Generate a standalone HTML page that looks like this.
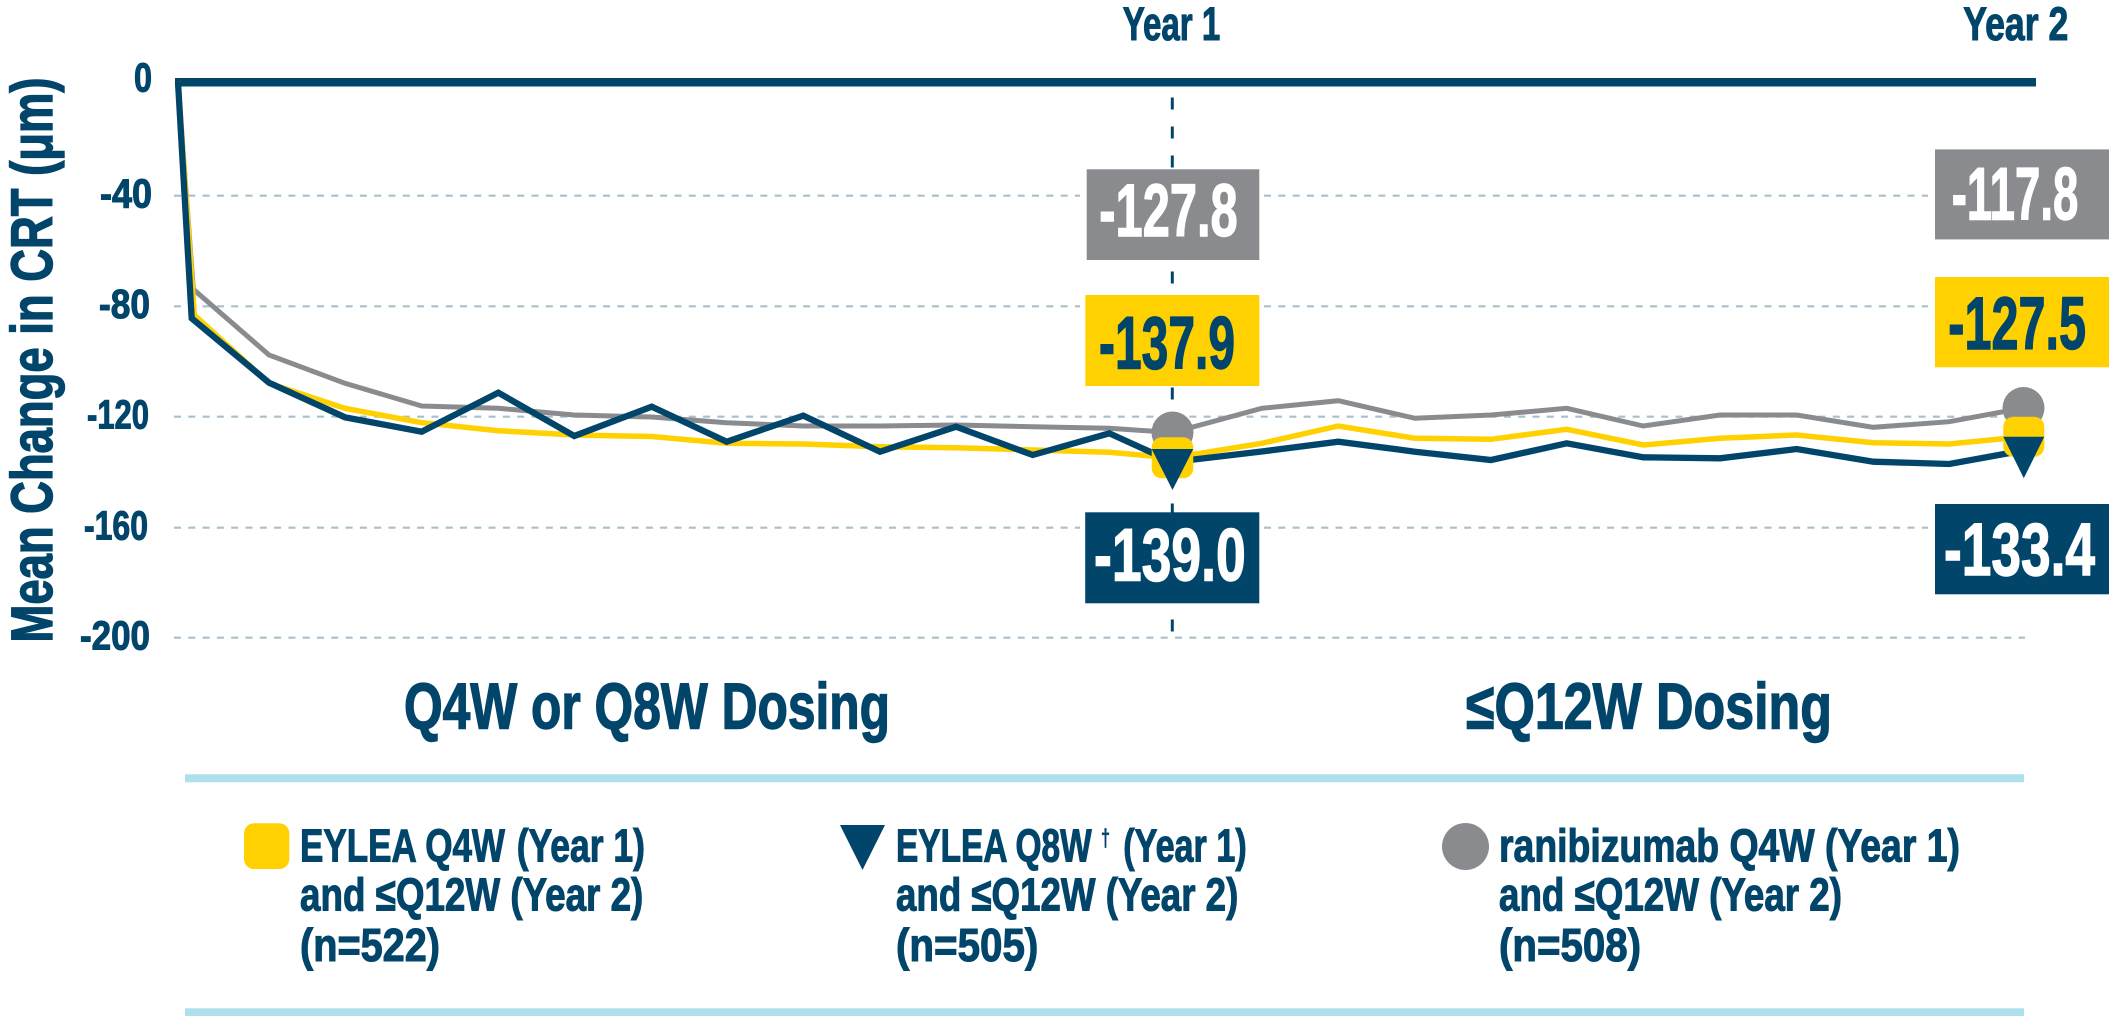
<!DOCTYPE html>
<html><head><meta charset="utf-8"><style>
html,body{margin:0;padding:0;background:#fff;}
svg{display:block;}
text{font-family:"Liberation Sans Narrow","Liberation Sans",Arial,sans-serif;font-weight:bold;}
.nv{stroke:#02456b;stroke-width:1.1;}
.wt{stroke:#fff;stroke-width:1.4;}
.nvb{stroke:#02456b;stroke-width:1.4;}
</style></head><body>
<svg width="2109" height="1019" viewBox="0 0 2109 1019" xmlns="http://www.w3.org/2000/svg">
<rect width="2109" height="1019" fill="#fff"/>
<!-- grid -->
<g stroke="#a8bfcc" stroke-width="2.2" stroke-dasharray="7 7.3" fill="none">
<path d="M174 195.7H1080M1264 195.7H1928"/>
<path d="M174 306.3H1080M1264 306.3H1928"/>
<path d="M174 416.7H2010"/>
<path d="M174 527.7H1080M1264 527.7H1928"/>
<path d="M174 637.7H2025"/>
</g>
<!-- year 1 vertical dashed -->
<line x1="1172.3" y1="97.5" x2="1172.3" y2="642" stroke="#02456b" stroke-width="3" stroke-dasharray="12 17"/>
<!-- zero line -->
<line x1="175" y1="82.3" x2="2036" y2="82.3" stroke="#02456b" stroke-width="8.5"/>
<!-- tick labels -->
<g fill="#02456b" font-size="41" text-anchor="end" class="nv">
<text x="152" y="91.5" textLength="18" lengthAdjust="spacingAndGlyphs">0</text>
<text x="152" y="207.5" textLength="52" lengthAdjust="spacingAndGlyphs">-40</text>
<text x="150" y="318" textLength="51" lengthAdjust="spacingAndGlyphs">-80</text>
<text x="149" y="428.5" textLength="62" lengthAdjust="spacingAndGlyphs">-120</text>
<text x="148" y="539.5" textLength="64" lengthAdjust="spacingAndGlyphs">-160</text>
<text x="150" y="649.5" textLength="70" lengthAdjust="spacingAndGlyphs">-200</text>
</g>
<!-- y axis title -->
<text class="nvb" transform="translate(52,360) rotate(-90)" text-anchor="middle" font-size="58" fill="#02456b" textLength="565" lengthAdjust="spacingAndGlyphs">Mean Change in CRT (μm)</text>
<!-- year labels -->
<text class="nv" x="1122.7" y="40" font-size="47.5" fill="#02456b" textLength="97.6" lengthAdjust="spacingAndGlyphs">Year 1</text>
<text class="nv" x="1963.3" y="40" font-size="47.5" fill="#02456b" textLength="105" lengthAdjust="spacingAndGlyphs">Year 2</text>
<!-- series -->
<g fill="none" stroke-linejoin="miter" stroke-miterlimit="10">
<polyline stroke="#8a8b8f" stroke-width="5" points="178,82 193.3,289.3 269,355 345,383.3 421.7,406 498.3,408.3 574.3,415 651.7,417 726.7,422.7 803.3,426 880,426 956,425 1032.7,426.7 1109.3,428.3 1172.5,432.5 1261.7,408.3 1338.3,400.7 1415,418.3 1491,415 1566.7,408.3 1643.3,426 1720,415 1796.7,415 1873.3,427.3 1949.3,421.7 2023.5,408"/>
<polyline stroke="#ffd100" stroke-width="5.5" points="178,82 194.3,315 269,383.3 345,408.3 421.7,422.7 498.3,430.7 574.3,435 651.7,436.5 726.7,443.3 803.3,444 880,446.7 956,447.7 1032.7,450 1109.3,452.3 1172.5,457.8 1261.7,443.3 1338.3,426 1415,438.3 1491,439.3 1566.7,429.3 1643.3,445 1720,438.3 1796.7,435 1873.3,442.7 1949.3,444 2023.5,436.7"/>
<polyline stroke="#02456b" stroke-width="6.3" points="178,82 191.7,318.3 269,382.7 345,417.3 421.7,431.7 498.3,392.7 574.3,436 651.7,406.7 726.7,441.7 803.3,415.7 880,451.7 956,426.7 1032.7,455 1109.3,433.3 1172.5,462 1261.7,451.5 1338.3,441.7 1415,451.7 1491,460 1566.7,443.3 1643.3,457.3 1720,458.3 1796.7,449 1873.3,461.7 1949.3,464 2023.5,450.5"/>
</g>
<!-- markers Y1 -->
<circle cx="1172.5" cy="432.5" r="21" fill="#8a8b8f"/>
<rect x="1151.7" y="437.3" width="41.6" height="41" rx="10" fill="#ffd100"/>
<polygon points="1151.7,449 1193.3,449 1172.5,490" fill="#02456b"/>
<!-- markers Y2 -->
<circle cx="2023.5" cy="408" r="21" fill="#8a8b8f"/>
<rect x="2003.3" y="416.7" width="41" height="40" rx="10" fill="#ffd100"/>
<polygon points="2003.3,436.7 2044.3,436.7 2023.8,478.3" fill="#02456b"/>
<!-- value boxes Y1 -->
<rect x="1086.7" y="169.3" width="172.6" height="90.7" fill="#8a8b8f"/>
<text class="wt" x="1099.3" y="236" font-size="74" fill="#fff" textLength="138.4" lengthAdjust="spacingAndGlyphs">-127.8</text>
<rect x="1085.3" y="295" width="174" height="91" fill="#ffd100"/>
<text class="nvb" x="1099" y="368.3" font-size="74" fill="#02456b" textLength="136" lengthAdjust="spacingAndGlyphs">-137.9</text>
<rect x="1085.2" y="512.3" width="174.1" height="91" fill="#02456b"/>
<text class="wt" x="1094" y="580.7" font-size="74" fill="#fff" textLength="151.7" lengthAdjust="spacingAndGlyphs">-139.0</text>
<!-- value boxes Y2 -->
<rect x="1935" y="149.4" width="174" height="90" fill="#8a8b8f"/>
<text class="wt" x="1951.7" y="219.3" font-size="74" fill="#fff" textLength="126.6" lengthAdjust="spacingAndGlyphs">-117.8</text>
<rect x="1935" y="277" width="174" height="90.3" fill="#ffd100"/>
<text class="nvb" x="1948.3" y="349" font-size="74" fill="#02456b" textLength="137.7" lengthAdjust="spacingAndGlyphs">-127.5</text>
<rect x="1935" y="504" width="174" height="90.3" fill="#02456b"/>
<text class="wt" x="1944" y="575" font-size="74" fill="#fff" textLength="151" lengthAdjust="spacingAndGlyphs">-133.4</text>
<!-- dosing labels -->
<text class="nvb" x="404" y="728.3" font-size="65" fill="#02456b" textLength="486" lengthAdjust="spacingAndGlyphs">Q4W or Q8W Dosing</text>
<text class="nvb" x="1466" y="728.3" font-size="65" fill="#02456b" textLength="366" lengthAdjust="spacingAndGlyphs">≤Q12W Dosing</text>
<!-- legend rules -->
<rect x="185" y="774.3" width="1839" height="8" fill="#aedfec"/>
<rect x="185" y="1008.3" width="1839" height="7.7" fill="#aedfec"/>
<!-- legend markers -->
<rect x="244" y="823.3" width="45.3" height="45.7" rx="10" fill="#ffd100"/>
<polygon points="840,825 885,825 862.5,870" fill="#02456b"/>
<circle cx="1465.5" cy="846.5" r="23.5" fill="#8a8b8f"/>
<!-- legend text -->
<g fill="#02456b" font-size="46.5" class="nv">
<text x="300" y="861.5" textLength="205" lengthAdjust="spacingAndGlyphs">EYLEA Q4W</text>
<text x="516.7" y="861.5" textLength="128.3" lengthAdjust="spacingAndGlyphs">(Year 1)</text>
<text x="300" y="910.5" textLength="343.3" lengthAdjust="spacingAndGlyphs">and ≤Q12W (Year 2)</text>
<text x="300" y="961" textLength="140" lengthAdjust="spacingAndGlyphs">(n=522)</text>

<text x="896" y="861.5" textLength="195.7" lengthAdjust="spacingAndGlyphs">EYLEA Q8W</text>
<text x="1101" y="846" font-size="24" textLength="9" lengthAdjust="spacingAndGlyphs" style="stroke-width:0.5">†</text>
<text x="1123.3" y="861.5" textLength="123.4" lengthAdjust="spacingAndGlyphs">(Year 1)</text>
<text x="896" y="910.5" textLength="342.3" lengthAdjust="spacingAndGlyphs">and ≤Q12W (Year 2)</text>
<text x="896" y="961" textLength="142.3" lengthAdjust="spacingAndGlyphs">(n=505)</text>

<text x="1499" y="861.5" textLength="461" lengthAdjust="spacingAndGlyphs">ranibizumab Q4W (Year 1)</text>
<text x="1499" y="910.5" textLength="343" lengthAdjust="spacingAndGlyphs">and ≤Q12W (Year 2)</text>
<text x="1499" y="961" textLength="142" lengthAdjust="spacingAndGlyphs">(n=508)</text>
</g>
</svg>
</body></html>
